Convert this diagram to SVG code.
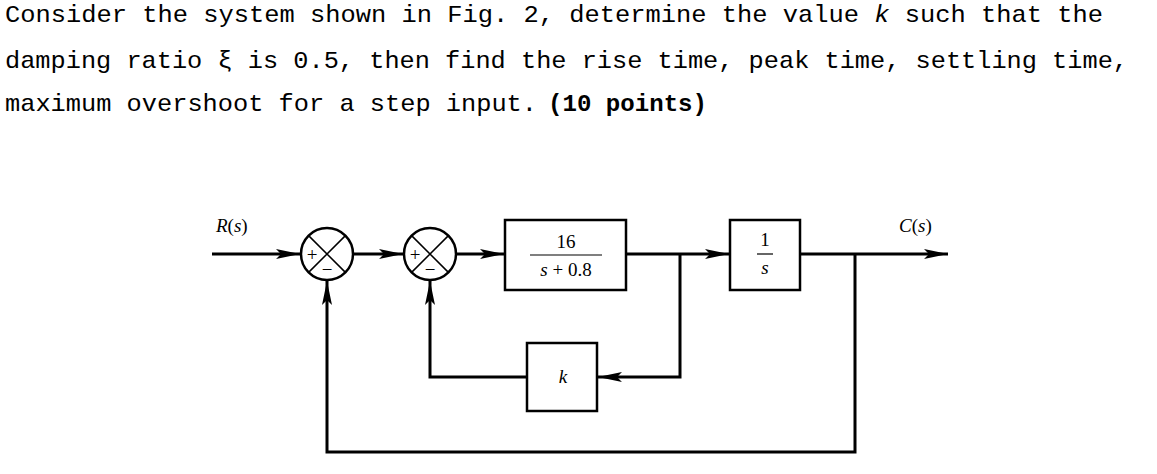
<svg xmlns="http://www.w3.org/2000/svg" width="1157" height="474" viewBox="0 0 1157 474">
<style>
.t{font-family:"Liberation Mono",monospace;font-size:24px;fill:#000}
.m{font-family:"Liberation Serif",serif;font-size:19px;fill:#000}
.w{fill:none;stroke:#000;stroke-width:3}
.b{fill:#fff;stroke:#000;stroke-width:2.5}
</style>
<defs><marker id="a" viewBox="0 0 10 10" refX="10" refY="5" markerWidth="7" markerHeight="4" orient="auto" markerUnits="userSpaceOnUse" style="overflow:visible"><path d="M0,0 L10,5 L0,10 Z" transform="scale(2.6,0.9) translate(0,0)"/></marker>
<marker id="h" viewBox="0 0 24 10" refX="24" refY="5" markerWidth="24" markerHeight="10" orient="auto" markerUnits="userSpaceOnUse"><path d="M0,0 L24,5 L0,10 L5,5 Z"/></marker></defs>
<text class="t" x="5" y="22" textLength="1098" lengthAdjust="spacingAndGlyphs">Consider the system shown in Fig. 2, determine the value <tspan font-style="italic">k</tspan> such that the</text>
<text class="t" x="5" y="68" textLength="1123" lengthAdjust="spacingAndGlyphs">damping ratio ξ is 0.5, then find the rise time, peak time, settling time,</text>
<text class="t" x="5" y="111" textLength="532" lengthAdjust="spacingAndGlyphs">maximum overshoot for a step input.</text>
<text class="t" x="548" y="111" font-weight="bold" textLength="159" lengthAdjust="spacingAndGlyphs">(10 points)</text>
<g id="connectors">
<path class="w" d="M212,254 H300" marker-end="url(#h)"/>
<path class="w" d="M353,254 H403" marker-end="url(#h)"/>
<path class="w" d="M456,254 H504" marker-end="url(#h)"/>
<path class="w" d="M626,254 H729" marker-end="url(#h)"/>
<path class="w" d="M800,254 H948" marker-end="url(#h)"/>
<path class="w" d="M680,254 V377 H598" marker-end="url(#h)"/>
<path class="w" d="M527,377 H430 V281" marker-end="url(#h)"/>
<path class="w" d="M855,254 V452 H327 V281" marker-end="url(#h)"/>
</g>
<g id="sum1"><circle class="b" cx="327" cy="254" r="26"/><path stroke="#000" stroke-width="1.5" d="M308.6,235.6 L345.4,272.4 M345.4,235.6 L308.6,272.4"/><text class="m" x="312" y="261" text-anchor="middle" font-size="16">+</text><text class="m" x="327" y="276" text-anchor="middle" font-size="16">−</text></g>
<g id="sum2"><circle class="b" cx="430" cy="254" r="26"/><path stroke="#000" stroke-width="1.5" d="M411.6,235.6 L448.4,272.4 M448.4,235.6 L411.6,272.4"/><text class="m" x="415" y="261" text-anchor="middle" font-size="16">+</text><text class="m" x="430" y="276" text-anchor="middle" font-size="16">−</text></g>
<g id="g1"><rect class="b" x="505" y="220" width="121" height="70"/><text class="m" x="566" y="248" text-anchor="middle">16</text><line x1="530" y1="255" x2="602" y2="255" stroke="#000" stroke-width="1.2"/><text class="m" x="566" y="276" text-anchor="middle"><tspan font-style="italic">s</tspan>  + 0.8</text></g>
<g id="g2"><rect class="b" x="730" y="220" width="70" height="70"/><text class="m" x="765" y="246" text-anchor="middle" font-size="16">1</text><line x1="757" y1="254" x2="773" y2="254" stroke="#000" stroke-width="1.2"/><text class="m" x="765" y="274" text-anchor="middle" font-size="16" font-style="italic">s</text></g>
<g id="k"><rect class="b" x="527" y="343" width="70" height="68"/><text class="m" x="563" y="383" text-anchor="middle" font-style="italic">k</text></g>
<text class="m" x="216" y="232"><tspan font-style="italic">R</tspan>(<tspan font-style="italic">s</tspan>)</text>
<text class="m" x="899" y="232"><tspan font-style="italic">C</tspan>(<tspan font-style="italic">s</tspan>)</text>
</svg>
